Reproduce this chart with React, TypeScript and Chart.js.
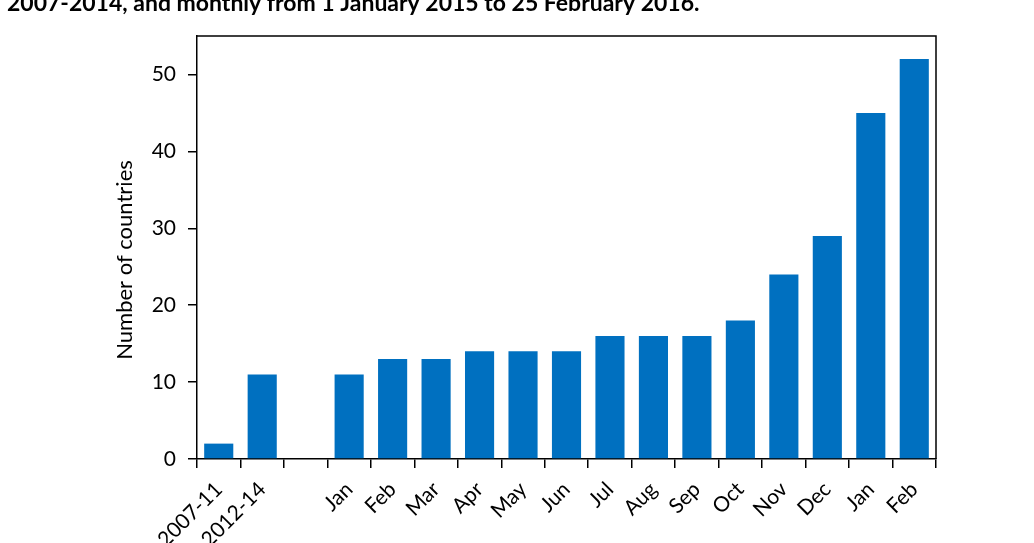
import React, { useEffect, useRef } from "react";
import { Chart, registerables } from "chart.js";

Chart.register(...registerables);

const titleText = "2007-2014, and monthly from 1 January 2015 to 25 February 2016.";
const categories = ["2007-11", "2012-14", "", "Jan", "Feb", "Mar", "Apr", "May", "Jun", "Jul", "Aug", "Sep", "Oct", "Nov", "Dec", "Jan", "Feb"];
const countries = [2, 11, null, 11, 13, 13, 14, 14, 14, 16, 16, 16, 18, 24, 29, 45, 52];
const yTicks = [0, 10, 20, 30, 40, 50];
const yAxisTitle = "Number of countries";

const FONT = "Lato, 'Open Sans', sans-serif";

const framePlugin = {
  id: "frame",
  afterDraw(chart: any) {
    const { ctx, chartArea } = chart;
    ctx.save();
    ctx.strokeStyle = "#000";
    ctx.lineWidth = 1.5;
    ctx.beginPath();
    ctx.moveTo(chartArea.left, chartArea.top);
    ctx.lineTo(chartArea.right, chartArea.top);
    ctx.lineTo(chartArea.right, chartArea.bottom);
    ctx.stroke();
    ctx.fillStyle = "#000";
    ctx.font = `bold 23px ${FONT}`;
    ctx.textBaseline = "alphabetic";
    ctx.textAlign = "left";
    ctx.fillText(titleText, 7, 11);
    // y-axis title
    ctx.save();
    ctx.translate(125, 260);
    ctx.rotate(-Math.PI / 2);
    ctx.font = `22px ${FONT}`;
    ctx.textAlign = "center";
    ctx.textBaseline = "middle";
    ctx.fillText(yAxisTitle, 0, 0);
    ctx.restore();
    ctx.restore();
  },
};

export default function App() {
  const ref = useRef<HTMLCanvasElement | null>(null);
  useEffect(() => {
    if (!ref.current) return;
    const chart = new Chart(ref.current, {
      type: "bar",
      data: {
        labels: categories,
        datasets: [
          {
            data: countries,
            backgroundColor: "#0070C0",
            barPercentage: 0.67,
            categoryPercentage: 1,
          },
        ],
      },
      options: {
        animation: false,
        responsive: false,
        devicePixelRatio: 1,
        layout: { padding: { left: 114, right: 98, top: 36, bottom: 0 } },
        plugins: { legend: { display: false }, tooltip: { enabled: false } },
        scales: {
          x: {
            offset: true,
            grid: { offset: true, drawOnChartArea: false, tickLength: 9, color: "#000", lineWidth: 1.5 },
            border: { color: "#000", width: 1.5 },
            ticks: {
              autoSkip: false,
              minRotation: 45,
              maxRotation: 45,
              padding: 9,
              color: "#000",
              font: { family: FONT, size: 21 },
            },
            afterFit(scale: any) {
              scale.height = 84;
            },
          },
          y: {
            min: 0,
            max: 55,
            afterBuildTicks(scale: any) {
              scale.ticks = yTicks.map((v) => ({ value: v }));
            },
            grid: { drawOnChartArea: false, tickLength: 9, color: "#000", lineWidth: 1.5 },
            border: { color: "#000", width: 1.5 },
            ticks: {
              padding: 12,
              color: "#000",
              font: { family: FONT, size: 21 },
            },
            afterFit(scale: any) {
              scale.width = 83;
            },
          },
        },
      },
      plugins: [framePlugin],
    });
    return () => chart.destroy();
  }, []);
  return (
    <div style={{ position: "fixed", left: 0, top: 0, width: 1034, height: 543, background: "#fff" }}>
      <canvas ref={ref} width={1034} height={543} style={{ width: 1034, height: 543, display: "block" }} />
    </div>
  );
}
